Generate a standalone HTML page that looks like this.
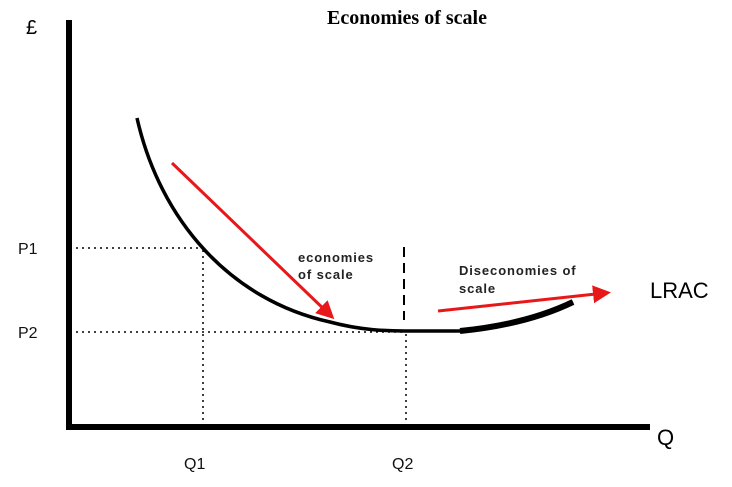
<!DOCTYPE html><html><head><style>body{margin:0;background:#fff}</style></head><body>
<svg width="732" height="482" xmlns="http://www.w3.org/2000/svg">
<defs><marker id="a" markerWidth="6" markerHeight="6" refX="4" refY="3" orient="auto" markerUnits="strokeWidth"><path d="M0,0L6,3L0,6z" fill="#e8171a"/></marker></defs>
<text x="407" y="24" font-family="Liberation Serif" font-weight="bold" font-size="20" text-anchor="middle">Economies of scale</text>
<text x="26" y="34" font-family="Liberation Sans" font-size="20">£</text>
<line x1="69" y1="20" x2="69" y2="430" stroke="#000" stroke-width="6"/>
<line x1="66" y1="427" x2="650" y2="427" stroke="#000" stroke-width="6"/>
<g stroke="#000" stroke-width="1.5" stroke-dasharray="2,4">
<line x1="76" y1="248" x2="205" y2="248"/><line x1="76" y1="332" x2="405" y2="332"/>
<line x1="203" y1="250" x2="203" y2="420"/><line x1="406" y1="334" x2="406" y2="420"/></g>
<line x1="404" y1="247" x2="404" y2="320" stroke="#000" stroke-width="2" stroke-dasharray="10,6"/>
<path d="M137,118 C160,220 230,300 330,322 C360,330 385,331 405,331 L460,331 C500,328 540,318 573,302" fill="none" stroke="#000" stroke-width="3.5"/>
<path d="M460,331 C500,327 540,318 573,302" fill="none" stroke="#000" stroke-width="6"/>
<line x1="172" y1="163" x2="330" y2="315" stroke="#e8171a" stroke-width="3" marker-end="url(#a)"/>
<line x1="438" y1="311" x2="605" y2="293" stroke="#e8171a" stroke-width="3" marker-end="url(#a)"/>
<g font-family="Liberation Sans" font-size="13" font-weight="bold" fill="#222" letter-spacing="0.9">
<text x="298" y="262">economies</text><text x="298" y="279">of scale</text>
<text x="459" y="275">Diseconomies of</text><text x="459" y="293">scale</text></g>
<g font-family="Liberation Sans" font-size="16" fill="#111">
<text x="18" y="254">P1</text><text x="18" y="338">P2</text>
<text x="184" y="469">Q1</text><text x="392" y="469">Q2</text></g>
<text x="650" y="298" font-family="Liberation Sans" font-size="22">LRAC</text>
<text x="657" y="445" font-family="Liberation Sans" font-size="22">Q</text>
</svg></body></html>
